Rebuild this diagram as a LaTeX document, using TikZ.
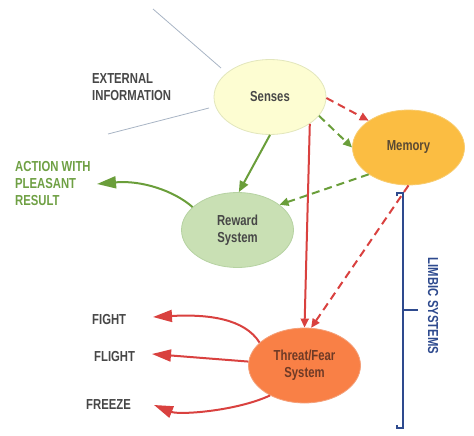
\documentclass[tikz,border=0pt]{standalone}
\usepackage{fontspec}
\newfontfamily\lab[FakeStretch=0.78]{Liberation Sans}
\usetikzlibrary{shapes.geometric,arrows.meta}
\definecolor{txt}{HTML}{474747}
\definecolor{grn}{HTML}{6A9E3A}
\definecolor{grntxt}{HTML}{6FA044}
\definecolor{rd}{HTML}{D9413F}
\definecolor{blu}{HTML}{2E4A8E}
\definecolor{gline}{HTML}{A8B4C4}
\definecolor{sensefill}{HTML}{FDFDD2}
\definecolor{senseline}{HTML}{E2E6BC}
\definecolor{memfill}{HTML}{FBBD42}
\definecolor{memline}{HTML}{F8CC70}
\definecolor{rewfill}{HTML}{C9E0B4}
\definecolor{rewline}{HTML}{B6D2A2}
\definecolor{thrfill}{HTML}{F98046}
\definecolor{thrline}{HTML}{F4A07A}
\definecolor{memtxt}{HTML}{5A4A34}
\definecolor{thrtxt}{HTML}{6E3A26}
\begin{document}
\begin{tikzpicture}[x=1pt,y=-1pt,
  every node/.style={font=\lab\bfseries\fontsize{14.5}{17}\selectfont, text=txt, inner sep=0pt},
  blob/.style={ellipse, draw, line width=0.8pt, minimum width=112pt, minimum height=75pt, align=center},
  bigtipg/.style={-{Triangle[length=19pt,width=12pt]}},
  smalltip/.style={-{Triangle[length=9pt,width=8pt]}},
  gsolid/.style={draw=grn, line width=2pt},
  rsolid/.style={draw=rd, line width=2pt},
  gdash/.style={draw=grn, line width=2pt, dash pattern=on 8pt off 5pt},
  rdash/.style={draw=rd, line width=2pt, dash pattern=on 8pt off 5pt},
  lbl/.style={align=left, anchor=west}
]
\useasboundingbox (0,0) rectangle (474,436);

% ellipses
\node[blob, fill=sensefill, draw=senseline] (senses) at (270,97) {Senses};
\node[blob, fill=memfill, draw=memline, text=memtxt] (memory) at (408.5,147.5) {Memory};
\node[blob, fill=rewfill, draw=rewline] (reward) at (237.5,230) {Reward\\System};
\node[blob, fill=thrfill, draw=thrline, text=thrtxt] (threat) at (304.5,365.5) {Threat/Fear\\System};

% labels
\node[lbl] (ext) at (92,87) {EXTERNAL\\INFORMATION};
\node[lbl, text=grntxt] (action) at (15,184) {ACTION WITH\\PLEASANT\\RESULT};
\node[lbl] (fight) at (92,319.5) {FIGHT};
\node[lbl] (flight) at (94,356.5) {FLIGHT};
\node[lbl] (freeze) at (86,404.5) {FREEZE};
\node[text=blu, rotate=-90] (limbic) at (433,306) {LIMBIC SYSTEMS};

% gray information lines
\draw[gline, line width=0.8pt] (153,9) -- (221,68);
\draw[gline, line width=0.8pt] (108,134) -- (209,108);

% free arrow ends
\coordinate (actiontip) at (97,184);
\coordinate (fighttip) at (153,317);
\coordinate (flighttip) at (152,354);
\coordinate (freezetip) at (154,405);

% connectors
\draw[gsolid, -{Triangle[length=11pt,width=9pt]}] (senses.-90) -- (reward.88);
\draw[rdash, smalltip] (senses.-1) -- (memory.146);
\draw[gdash, smalltip] (senses.-21) -- (memory.180);
\draw[gdash, smalltip] (memory.214) -- (reward.31);
\draw[rsolid, smalltip] (senses.-34) -- (threat.90);
\draw[rdash, smalltip] (memory.-90) -- (threat.80);

\draw[gsolid, bigtipg] (reward.153) .. controls +(-18,-16) and +(45,-4) .. (actiontip);
\draw[rsolid, bigtipg] (threat.153) .. controls +(-15,-24) and +(55,-3) .. (fighttip);
\draw[rsolid, bigtipg] (threat.176) -- (flighttip);
\draw[rsolid, bigtipg] (threat.221) .. controls +(-35,16) and +(25,10) .. (freezetip);

% bracket
\coordinate (brtop) at (403,193);
\coordinate (brbot) at (403,428);
\coordinate (brmid) at (403,310);
\draw[blu, line width=1.8pt] (397,196) -- (397,193) -- (brtop) -- (brbot) -- (397,428) -- (397,425);
\draw[blu, line width=1.8pt] (brmid) -- (418,310);
\end{tikzpicture}
\end{document}
